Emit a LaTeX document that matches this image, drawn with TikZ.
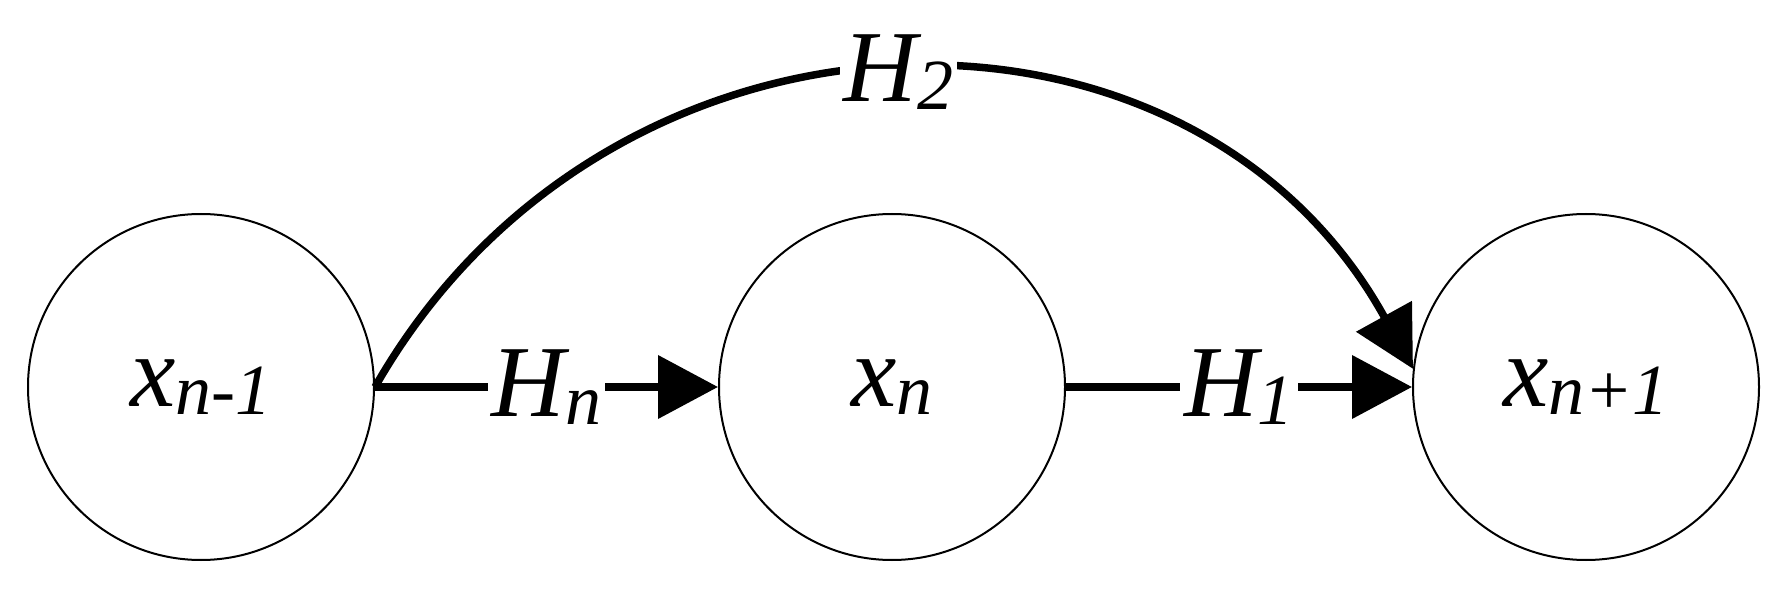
\documentclass[tikz,border=0pt]{standalone}
\usepackage{fontspec}
\setmainfont{Liberation Serif}
\usetikzlibrary{arrows.meta}
\newcommand{\lbl}[2]{{\fontsize{102}{106}\selectfont\itshape #1}{\fontsize{72}{74}\selectfont\itshape\raisebox{-8pt}{#2}}}
\begin{document}
\begin{tikzpicture}[x=1pt,y=1pt,
  st/.style={circle,draw,line width=2pt,minimum size=346pt,inner sep=0pt},
  conn/.style={line width=7.5pt,-{Triangle[length=60pt,width=62pt]}},
  lab/.style={fill=white,inner sep=4pt}]
\useasboundingbox (0,0) rectangle (1781,590);
\node[st] (a) at (201,203) {\lbl{x}{n-1}};
\node[st] (b) at (892,203) {\lbl{x}{n}};
\node[st] (c) at (1586,203) {\lbl{x}{n+1}};
\draw[conn] (a.east) -- node[lab]{\lbl{H}{n}} (b.west);
\draw[conn] (b.east) -- node[lab]{\lbl{H}{1}} (c.west);
\draw[conn] (a.east) .. controls (610,615) and (1190,625) .. node[pos=0.5,lab]{\lbl{H}{2}} (c.174);
\end{tikzpicture}
\end{document}
